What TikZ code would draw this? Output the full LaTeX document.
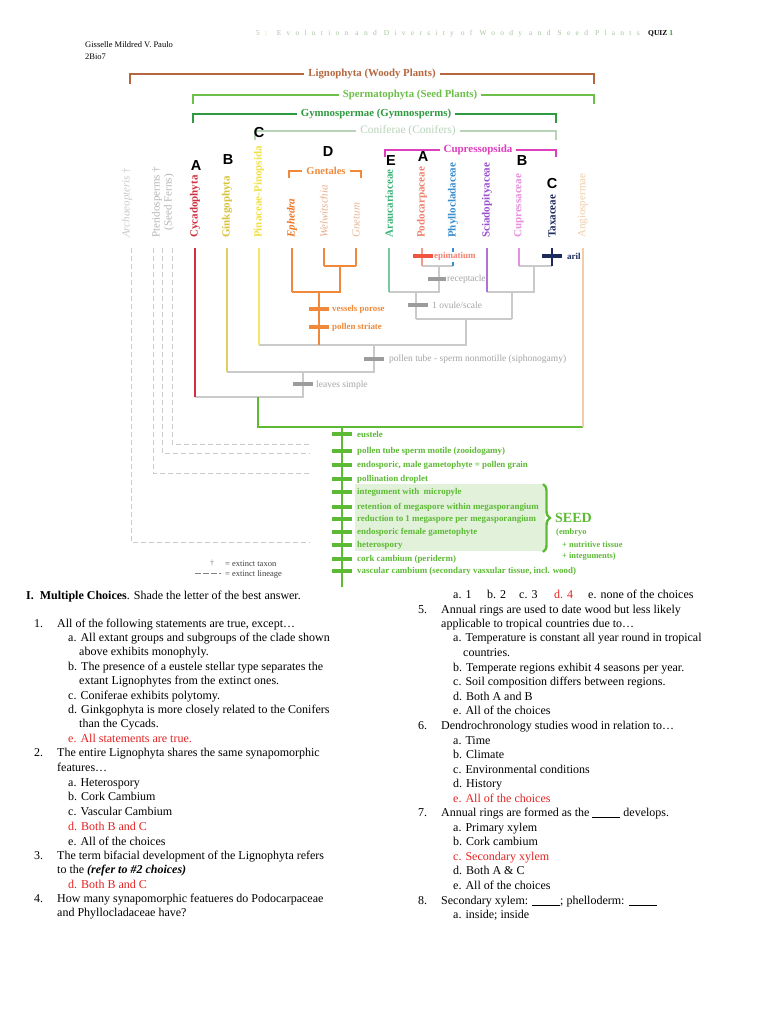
\documentclass[tikz,border=0pt]{standalone}
\usepackage{fontspec}
\setmainfont{Liberation Serif}
\newfontfamily\hdrfont[LetterSpace=70]{Liberation Serif}
\newfontfamily\letfont{Liberation Sans}
\usetikzlibrary{decorations.pathreplacing}
\definecolor{lignobrown}{HTML}{B5683F}
\definecolor{spermgreen}{HTML}{6CC04A}
\definecolor{gymnogreen}{HTML}{2F9A3F}
\definecolor{conifgreen}{HTML}{B9D3B9}
\definecolor{cuprmag}{HTML}{DD3FBF}
\definecolor{gnetorange}{HTML}{F0893A}
\definecolor{treegray}{HTML}{CACACA}
\definecolor{tickgray}{HTML}{9C9C9C}
\definecolor{labgray}{HTML}{A4A4A4}
\definecolor{stemgreen}{HTML}{5CBA34}
\definecolor{seedfill}{HTML}{E2F1DA}
\definecolor{hdrgreen}{HTML}{A9C7A1}
\definecolor{ansred}{HTML}{E52222}
\definecolor{cycared}{HTML}{D03040}
\definecolor{ginkyel}{HTML}{D8C23A}
\definecolor{pinayel}{HTML}{F0E046}
\definecolor{epheor}{HTML}{F07624}
\definecolor{welwor}{HTML}{E8B090}
\definecolor{gnetor}{HTML}{E8B898}
\definecolor{araugreen}{HTML}{3CB478}
\definecolor{podosalm}{HTML}{F08070}
\definecolor{phylblue}{HTML}{3A8FD0}
\definecolor{sciapurp}{HTML}{9A4FD0}
\definecolor{cuprpink}{HTML}{E890E0}
\definecolor{taxanavy}{HTML}{1C2A5C}
\definecolor{angitan}{HTML}{F0CDA8}
\definecolor{epimred}{HTML}{F05440}
\begin{document}
\begin{tikzpicture}[x=1pt,y=-1pt,
  tip/.style={line width=1.2pt},
  branch/.style={line width=1.1pt,draw=treegray},
  extinct/.style={line width=1pt,draw=treegray,dash pattern=on 5pt off 3pt},
  syn/.style={line width=3.6pt},
  taxon/.style={rotate=90,anchor=west,inner sep=0pt,font=\bfseries\fontsize{11}{12}\selectfont},
  lighttaxon/.style={taxon,font=\fontsize{11}{12}\selectfont},
  clade/.style={fill=white,inner xsep=4pt,inner ysep=1pt,font=\bfseries\fontsize{10.8}{12}\selectfont},
  letter/.style={inner sep=0pt,font=\letfont\bfseries\fontsize{14.5}{14}\selectfont},
  charlab/.style={anchor=west,inner sep=0pt,font=\fontsize{9.5}{10}\selectfont},
  stemlab/.style={charlab,font=\bfseries\fontsize{8.9}{10}\selectfont},
  qtext/.style={anchor=base west,inner sep=0pt,font=\fontsize{12}{13}\selectfont}]
\fill[white] (0,0) rectangle (768,1024);
\useasboundingbox (0,0) rectangle (768,1024);
% header
\node[anchor=base west,inner sep=0pt,text=hdrgreen,font=\hdrfont\fontsize{7.5}{9}\selectfont] (title) at (256,36) {5: Evolution and Diversity of Woody and Seed Plants};
\node[anchor=base west,inner sep=0pt,font=\bfseries\fontsize{7.5}{9}\selectfont] (quiz) at (648,36) {QUIZ \textcolor{gymnogreen}{1}};
\node[anchor=base west,inner sep=0pt,font=\fontsize{8.5}{10}\selectfont] (name) at (85,48) {Gisselle Mildred V. Paulo};
\node[anchor=base west,inner sep=0pt,font=\fontsize{8.5}{10}\selectfont] (sect) at (85,60) {2Bio7};
% clade brackets
\draw[lignobrown,line width=1.3pt] (130,84) |- (594,74) -- (594,84);
\node[clade,text=lignobrown] (ligno) at (372,74) {Lignophyta (Woody Plants)};
\draw[spermgreen,line width=1.3pt] (193,104) |- (594,95) -- (594,104);
\node[clade,text=spermgreen] (sperm) at (410,95) {Spermatophyta (Seed Plants)};
\draw[gymnogreen,line width=1.3pt] (193,123) |- (556,114) -- (556,123);
\node[clade,text=gymnogreen] (gymno) at (376,114) {Gymnospermae (Gymnosperms)};
\draw[conifgreen,line width=1.2pt] (255,140) |- (556,131) -- (556,140);
\node[clade,text=conifgreen,font=\fontsize{11.5}{12}\selectfont] (conif) at (408,131) {Coniferae (Conifers)};
\draw[cuprmag,line width=1.3pt] (385,157) |- (556,150) -- (556,157);
\node[clade,text=cuprmag,font=\bfseries\fontsize{11}{12}\selectfont] (cupro) at (478,150) {Cupressopsida};
\draw[gnetorange,line width=1.2pt] (289,178) |- (361,171) -- (361,178);
\node[clade,text=gnetorange,font=\bfseries\fontsize{10.5}{12}\selectfont] (gnetal) at (326,171) {Gnetales};
% letters
\node[letter] (lC1) at (259,133) {C};
\node[letter] (lA1) at (196,166) {A};
\node[letter] (lB1) at (228,160) {B};
\node[letter] (lD) at (328,152) {D};
\node[letter] (lE) at (391,161) {E};
\node[letter] (lA2) at (423,157) {A};
\node[letter] (lB2) at (522,161) {B};
\node[letter] (lC2) at (552,184) {C};
% taxa
\node[lighttaxon,text=treegray] (arch) at (127,238) {\textit{Archaeopteris} \dag};
\node[lighttaxon,text=labgray!80,align=center] (pter) at (163,238) {Pteridosperms \dag\\(Seed Ferns)};
\node[taxon,text=cycared] (cyca) at (195,238) {Cycadophyta};
\node[taxon,text=ginkyel] (ginkg) at (227,238) {Ginkgophyta};
\node[taxon,text=pinayel] (pina) at (259,238) {Pinaceae-Pinopsida};
\node[taxon,text=epheor,font=\bfseries\itshape\fontsize{11}{12}\selectfont] (ephe) at (292,238) {Ephedra};
\node[lighttaxon,text=welwor,font=\itshape\fontsize{11}{12}\selectfont] (welw) at (324,238) {Welwitschia};
\node[lighttaxon,text=gnetor,font=\itshape\fontsize{11}{12}\selectfont] (gnet) at (356,238) {Gnetum};
\node[taxon,text=araugreen] (arau) at (389,238) {Araucariaceae};
\node[taxon,text=podosalm] (podo) at (422,238) {Podocarpaceae};
\node[taxon,text=phylblue] (phyl) at (453,238) {Phyllocladaceae};
\node[taxon,text=sciapurp] (scia) at (487,238) {Sciadopityaceae};
\node[taxon,text=cuprpink] (cupr) at (519,238) {Cupressaceae};
\node[taxon,text=taxanavy] (taxa) at (552,238) {Taxaceae};
\node[lighttaxon,text=angitan] (angi) at (583,238) {Angiospermae};
% tips
\foreach \n/\x in {Cyc/195,Gin/227,Pin/259,Eph/292,Wel/324,Gne/356,Ara/389,Pod/422,Phy/453,Sci/487,Cup/519,Tax/552,Ang/583}
  \coordinate (t\n) at (\x,248);
\coordinate (nWG) at (340,266);
\coordinate (nGn) at (319,292);
\coordinate (nPP) at (439,266);
\coordinate (nAP) at (416,292);
\coordinate (nCT) at (534,266);
\coordinate (nSC) at (512,292);
\coordinate (nCu) at (466,319);
\coordinate (nCo) at (374,345);
\coordinate (nGk) at (303,372);
\coordinate (nGy) at (258,397);
\coordinate (nSp) at (342,427);
% extinct lineages
\draw[extinct] (131,248) |- (310,542);
\draw[extinct] (153,248) |- (310,473);
\draw[extinct] (162,248) |- (310,453);
\draw[extinct] (172,248) |- (310,444);
% branches
\draw[branch] (tCyc |- nGy) -- (nGk |- nGy) -- (nGk);
\draw[branch] (tGin |- nGk) -- (nCo |- nGk) -- (nCo);
\draw[branch] (tPin |- nCo) -- (nCu |- nCo) -- (nCu);
\draw[branch] (nAP |- nCu) -- (nSC |- nCu);
\draw[branch] (nAP) -- (nAP |- nCu);
\draw[branch] (nSC) -- (nSC |- nCu);
\draw[branch] (tAra |- nAP) -- (nPP |- nAP) -- (nPP);
\draw[branch] (tPod |- nPP) -- (tPhy |- nPP);
\draw[branch] (tSci |- nSC) -- (nCT |- nSC) -- (nCT);
\draw[branch] (tCup |- nCT) -- (tTax |- nCT);
\draw[gnetorange,line width=1.1pt] (tWel |- nWG) -- (tGne |- nWG);
\draw[gnetorange,line width=1.1pt] (tEph |- nGn) -- (nWG |- nGn) -- (nWG);
\draw[gnetorange,line width=1.1pt] (nGn) -- (nGn |- nCo);
\draw[stemgreen,line width=1.1pt] (nGy) |- (tAng |- nSp);
\draw[tip,cycared] (tCyc) -- (tCyc |- nGy);
\draw[tip,ginkyel!80] (tGin) -- (tGin |- nGk);
\draw[tip,pinayel!80] (tPin) -- (tPin |- nCo);
\draw[tip,gnetorange] (tEph) -- (tEph |- nGn);
\draw[tip,gnetorange] (tWel) -- (tWel |- nWG);
\draw[tip,gnetorange] (tGne) -- (tGne |- nWG);
\draw[tip,araugreen!70] (tAra) -- (tAra |- nAP);
\draw[tip,podosalm!80] (tPod) -- (tPod |- nPP);
\draw[tip,phylblue,dash pattern=on 4pt off 3pt] (tPhy) -- (tPhy |- nPP);
\draw[tip,sciapurp!80] (tSci) -- (tSci |- nSC);
\draw[tip,cuprpink] (tCup) -- (tCup |- nCT);
\draw[tip,taxanavy] (tTax) -- (tTax |- nCT);
\draw[tip,angitan] (tAng) -- (tAng |- nSp);
% synapomorphies on branches
\draw[syn,epimred] (413,256) -- (433,256);
\node[charlab,fill=white,text=podosalm,font=\bfseries\fontsize{9}{10}\selectfont] (epim) at (434,256) {epimatium};
\draw[syn,taxanavy] (542,256) -- (562,256);
\node[charlab,text=taxanavy,font=\bfseries\fontsize{9}{10}\selectfont] (aril) at (567,256) {aril};
\draw[syn,tickgray] (428,279) -- (446,279);
\node[charlab,text=labgray] (recep) at (447,279) {receptacle};
\draw[syn,tickgray] (408,305) -- (428,305);
\node[charlab,text=labgray] (ovule) at (432,305) {1 ovule/scale};
\draw[syn,gnetorange] (309,309) -- (329,309);
\node[stemlab,text=gnetorange] (vess) at (332,309) {vessels porose};
\draw[syn,gnetorange] (309,327) -- (329,327);
\node[stemlab,text=gnetorange] (stri) at (332,327) {pollen striate};
\draw[syn,tickgray] (364,359) -- (384,359);
\node[charlab,text=labgray] (siph) at (389,359) {pollen tube - sperm nonmotille (siphonogamy)};
\draw[syn,tickgray] (293,384) -- (313,384);
\node[charlab,text=labgray] (leaf) at (316,385) {leaves simple};
% seed block and main stem
\fill[seedfill] (355,484) rectangle (545,551);
\draw[stemgreen,line width=1.1pt] (nSp) -- (342,587);
\foreach \y/\t [count=\i] in {434/eustele,451/{pollen tube sperm motile (zooidogamy)},465/{endosporic, male gametophyte = pollen grain},479/{pollination droplet},492/{integument with \ micropyle},507/{retention of megaspore within megasporangium},519/{reduction to 1 megaspore per megasporangium},532/{endosporic female gametophyte},545/heterospory,559/{cork cambium (periderm)},571/{vascular cambium (secondary vasxular tissue, incl. wood)}}{
  \draw[syn,stemgreen] (332,\y) -- (352,\y);
  \node[stemlab,text=stemgreen] (ch\i) at (357,\y) {\t};
}
\draw[stemgreen,line width=2.4pt,decorate,decoration={brace,amplitude=7pt}] (543,484) -- (543,552);
\node[anchor=west,inner sep=0pt,text=stemgreen,font=\bfseries\fontsize{14}{14}\selectfont] (seed) at (555,518) {SEED};
\node[anchor=west,inner sep=0pt,text=stemgreen,font=\bfseries\fontsize{8.4}{10}\selectfont] (emb1) at (556,532) {(embryo};
\node[anchor=west,inner sep=0pt,text=stemgreen,font=\bfseries\fontsize{8.4}{10}\selectfont] (emb2) at (562,545) {+ nutritive tissue};
\node[anchor=west,inner sep=0pt,text=stemgreen,font=\bfseries\fontsize{8.4}{10}\selectfont] (emb3) at (562,557) {+ integuments)};
% legend
\node[inner sep=0pt,text=gray,font=\fontsize{8}{9}\selectfont] (dag) at (212,563) {\dag};
\node[anchor=west,inner sep=0pt,text=darkgray,font=\fontsize{8.5}{9}\selectfont] (ext1) at (225,564) {= extinct taxon};
\draw[gray,line width=1pt,dash pattern=on 6pt off 2pt] (195,573) -- (221,573);
\node[anchor=west,inner sep=0pt,text=darkgray,font=\fontsize{8.5}{9}\selectfont] (ext2) at (225,574) {= extinct lineage};
% questions
\node[qtext] (head) at (26,599) {\textbf{I.\ \ Multiple Choices}. Shade the letter of the best answer.};
\foreach \x/\y/\c/\t [count=\i] in {
  34/627/black/{1.}, 57/627/black/{All of the following statements are true, except\ldots},
  68/641/black/{a. All extant groups and subgroups of the clade shown},
  79/655/black/{above exhibits monophyly.},
  68/670/black/{b. The presence of a eustele stellar type separates the},
  79/684/black/{extant Lignophytes from the extinct ones.},
  68/699/black/{c. Coniferae exhibits polytomy.},
  68/713/black/{d. Ginkgophyta is more closely related to the Conifers},
  79/727/black/{than the Cycads.},
  68/742/ansred/{e. All statements are true.},
  34/756/black/{2.}, 57/756/black/{The entire Lignophyta shares the same synapomorphic},
  57/771/black/{features\ldots},
  68/786/black/{a. Heterospory},
  68/800/black/{b. Cork Cambium},
  68/815/black/{c. Vascular Cambium},
  68/830/ansred/{d. Both B and C},
  68/845/black/{e. All of the choices},
  34/859/black/{3.}, 57/859/black/{The term bifacial development of the Lignophyta refers},
  57/873/black/{to the \textbf{\textit{(refer to \#2 choices)}}},
  68/888/ansred/{d. Both B and C},
  34/902/black/{4.}, 57/902/black/{How many synapomorphic featueres do Podocarpaceae},
  57/916/black/{and Phyllocladaceae have?},
  453/598/black/{a. 1}, 487/598/black/{b. 2}, 519/598/black/{c. 3}, 554/598/ansred/{d. 4}, 588/598/black/{e. none of the choices},
  418/613/black/{5.}, 441/613/black/{Annual rings are used to date wood but less likely},
  441/627/black/{applicable to tropical countries due to\ldots},
  453/641/black/{a. Temperature is constant all year round in tropical},
  463/656/black/{countries.},
  453/671/black/{b. Temperate regions exhibit 4 seasons per year.},
  453/685/black/{c. Soil composition differs between regions.},
  453/700/black/{d. Both A and B},
  453/714/black/{e. All of the choices},
  418/729/black/{6.}, 441/729/black/{Dendrochronology studies wood in relation to\ldots},
  453/744/black/{a. Time},
  453/758/black/{b. Climate},
  453/773/black/{c. Environmental conditions},
  453/787/black/{d. History},
  453/802/ansred/{e. All of the choices},
  418/816/black/{7.}, 441/816/black/{Annual rings are formed as the \underline{\hspace{28pt}} develops.},
  453/831/black/{a. Primary xylem},
  453/845/black/{b. Cork cambium},
  453/860/ansred/{c. Secondary xylem},
  453/874/black/{d. Both A \& C},
  453/889/black/{e. All of the choices},
  418/904/black/{8.}, 441/904/black/{Secondary xylem: \underline{\hspace{28pt}}; phelloderm: \underline{\hspace{28pt}}},
  453/918/black/{a. inside; inside}}{
  \node[qtext,text=\c] (q\i) at (\x,\y) {\t};
}
\end{tikzpicture}
\end{document}
